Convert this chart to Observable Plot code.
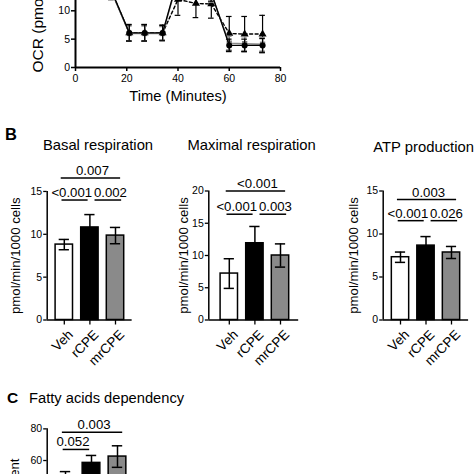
<!DOCTYPE html>
<html><head><meta charset="utf-8">
<script src="https://cdn.jsdelivr.net/npm/d3@7"></script>
<script src="https://cdn.jsdelivr.net/npm/@observablehq/plot@0.6"></script>
<style>
body{margin:0;background:#fff;}
#fig{position:relative;width:474px;height:474px;overflow:hidden;background:#fff;font-family:"Liberation Sans",Arial,sans-serif;color:#000;}
#fig svg{position:absolute;max-width:none;}
.lbl{position:absolute;white-space:nowrap;line-height:1;}
</style></head><body><div id="fig"></div>
<script>
// ---------- DATA ----------
const times     = [1.5, 8, 14, 21, 27, 34, 40, 47, 53, 60, 66, 73];
const ocrVeh    = [13.8, 13.6, 13.5, 6.1, 6.1, 6.1, 12.0, 11.3, 11.2, 6.0, 5.9, 5.9];
const ocrVehSd  = [1.5, 1.5, 1.5, 1.5, 1.5, 1.4, 2.8, 2.5, 2.5, 3.0, 3.1, 3.3];
const ocrRcpe   = [14.2, 14.0, 13.6, 6.1, 6.1, 6.1, 15.8, 14.5, 13.2, 3.9, 3.9, 3.9];
const ocrRcpeSd = [1.5, 1.5, 1.5, 1.4, 1.4, 1.3, 1.5, 1.5, 1.5, 1.1, 1.1, 1.2];
const ocrMr     = [14.0, 13.8, 13.4, 6.0, 6.0, 6.0, 15.5, 14.3, 13.0, 4.3, 4.2, 4.1];
const ocrMrSd   = [1.5, 1.5, 1.5, 1.3, 1.3, 1.2, 1.5, 1.5, 1.5, 1.2, 1.2, 1.2];
const timeTicks = [0, 20, 40, 60, 80];
const ocrTicks  = [0, 5, 10, 15];

const groups     = ["Veh", "rCPE", "mrCPE"];
const groupFills = ["white", "black", "#8a8a8a"];

const basal      = [8.8, 10.8, 9.85];
const basalSd    = [0.6, 1.5, 0.95];
const basalP     = [["Veh","mrCPE","0.007"], ["Veh","rCPE","<0.001"], ["rCPE","mrCPE","0.002"]];
const basalTicks = [0, 5, 10, 15];

const maximal      = [7.2, 11.9, 10.0];
const maximalSd    = [2.3, 2.6, 1.8];
const maximalP     = [["Veh","mrCPE","<0.001"], ["Veh","rCPE","<0.001"], ["rCPE","mrCPE","0.003"]];
const maximalTicks = [0, 5, 10, 15, 20];

const atp      = [7.3, 8.65, 7.85];
const atpSd    = [0.6, 1.05, 0.7];
const atpP     = [["Veh","mrCPE","0.003"], ["Veh","rCPE","<0.001"], ["rCPE","mrCPE","0.026"]];
const atpTicks = [0, 5, 10, 15];

const fatty      = [49.5, 58.5, 62.5];
const fattySd    = [3.5, 4.7, 6.8];
const fattyP     = [["Veh","mrCPE","0.003"], ["Veh","rCPE","0.052"]];
const fattyTicks = [0, 20, 40, 60, 80];

const FONT = '"Liberation Sans", Arial, sans-serif';
const fig = document.getElementById("fig");

function place(svg, left, top) {
  svg.style.left = left + "px";
  svg.style.top = top + "px";
  fig.appendChild(svg);
}
function label(text, left, cy, size, opts = {}) {
  const d = document.createElement("div");
  d.className = "lbl";
  d.textContent = text;
  d.style.fontSize = size + "px";
  d.style.top = (cy - size / 2) + "px";
  d.style.left = left + "px";
  if (opts.center) d.style.transform = "translateX(-50%)";
  if (opts.bold) d.style.fontWeight = "bold";
  fig.appendChild(d);
}

// ---------- PANEL A ----------
(function () {
  const series = [
    {v: ocrVeh, e: ocrVehSd, stroke: "black", dash: "3,2.5", symbol: "triangle", fill: "black"},
    {v: ocrMr, e: ocrMrSd, stroke: "#8a8a8a", dash: null, symbol: "square", fill: "#7a7a7a"},
    {v: ocrRcpe, e: ocrRcpeSd, stroke: "black", dash: null, symbol: "circle", fill: "black"}
  ];
  const marks = [];
  for (const s of series) {
    const rows = times.map((t, i) => ({t, v: s.v[i], e: s.e[i]}));
    marks.push(Plot.line(rows, {x: "t", y: "v", stroke: s.stroke, strokeWidth: 1.4, strokeDasharray: s.dash}));
    marks.push(Plot.ruleX(rows, {x: "t", y1: d => d.v - d.e, y2: d => d.v + d.e, stroke: s.stroke, strokeWidth: 1.2}));
    marks.push(Plot.ruleY(rows, {y: d => d.v + d.e, x1: d => d.t - 1.1, x2: d => d.t + 1.1, stroke: s.stroke, strokeWidth: 1.2}));
    marks.push(Plot.ruleY(rows, {y: d => d.v - d.e, x1: d => d.t - 1.1, x2: d => d.t + 1.1, stroke: s.stroke, strokeWidth: 1.2}));
    marks.push(Plot.dot(rows, {x: "t", y: "v", symbol: () => s.symbol, fill: s.fill, r: 3, stroke: "none"}));
  }
  const svg = Plot.plot({
    width: 300, height: 170, marginLeft: 75, marginRight: 20, marginTop: 13.6, marginBottom: 43,
    x: {domain: [0, 80]}, y: {domain: [0, 20]},
    style: {background: "none", fontFamily: FONT, fontSize: "10.5px", color: "black", overflow: "visible"},
    marks: [
      ...marks,
      Plot.ruleX([0], {strokeWidth: 2}),
      Plot.ruleY([0], {strokeWidth: 2}),
      Plot.axisY({ticks: ocrTicks, tickSize: 4, tickPadding: 1.5, label: null, strokeWidth: 1.5}),
      Plot.axisX({ticks: timeTicks, tickSize: 4, tickPadding: 3, label: null, strokeWidth: 1.5}),
      Plot.text(["Time (Minutes)"], {frameAnchor: "bottom", text: d => d, dy: 29, fontSize: 14.7, lineAnchor: "middle"}),
      Plot.text(["OCR (pmol/min/1000 cells)"], {frameAnchor: "bottom-left", text: d => d, rotate: -90, textAnchor: "start", dx: -37, dy: 5, fontSize: 15.5, lineAnchor: "middle"})
    ]
  });
  place(svg, 0, -60);
})();

// ---------- BAR PANELS ----------
function barChart(cfg) {
  const {values, errs, pvals, ticks, ppu, axisX, zeroY, vehCenter, spacing, xmax,
         left, top, width, height, wide, pair, ylabel, ylabelDx, ylabelY, ylabelAnchor} = cfg;
  const xmin = (axisX - vehCenter) / spacing;
  const marginLeft = axisX - left;
  const marginRight = width - marginLeft - (xmax - xmin) * spacing;
  const marginBottom = top + height - zeroY;
  const marginTop = 4;
  const ymaxDom = (height - marginBottom - marginTop) / ppu;
  const rows = groups.map((g, i) => ({g, i, v: values[i], e: errs[i], fill: groupFills[i]}));
  const br = pvals.map(([ga, gb, p]) => {
    const a = groups.indexOf(ga), b = groups.indexOf(gb);
    const span = b - a;
    const x1 = span === 2 ? a - 0.12 : (a === 0 ? a - 0.09 : a + 0.2);
    const x2 = span === 2 ? b + 0.2 : (b === 2 ? b + 0.24 : b - 0.07);
    const shift = span === 2 ? 0.06 : (a === 0 ? -0.13 : 0.08);
    return {x1, x2, xt: (x1 + x2) / 2 + shift, y: span === 2 ? wide : pair, p};
  });
  const topTick = ticks[ticks.length - 1];
  const svg = Plot.plot({
    width, height, marginLeft, marginRight, marginTop, marginBottom,
    x: {domain: [xmin, xmax]}, y: {domain: [0, ymaxDom]},
    color: {type: "identity"},
    style: {background: "none", fontFamily: FONT, fontSize: "10.5px", color: "black", overflow: "visible"},
    marks: [
      Plot.rect(rows, {x1: d => d.i - 0.34, x2: d => d.i + 0.34, y1: 0, y2: "v", fill: "fill", stroke: "black", strokeWidth: 1.5}),
      Plot.ruleX(rows, {x: "i", y1: d => d.v - d.e, y2: d => d.v + d.e, stroke: "black", strokeWidth: 1.5}),
      Plot.ruleY(rows, {y: d => d.v + d.e, x1: d => d.i - 0.2, x2: d => d.i + 0.2, stroke: "black", strokeWidth: 1.5}),
      Plot.ruleY(rows, {y: d => d.v - d.e, x1: d => d.i - 0.2, x2: d => d.i + 0.2, stroke: "black", strokeWidth: 1.5}),
      Plot.ruleX([xmin], {y1: 0, y2: topTick, strokeWidth: 1.5}),
      Plot.ruleY([0], {strokeWidth: 1.5}),
      Plot.axisY({ticks, tickSize: 3.5, tickPadding: 1.5, label: null, strokeWidth: 1.3}),
      Plot.axisX({ticks: [0, 1, 2], tickFormat: () => "", tickSize: 5, label: null, strokeWidth: 1.3}),
      Plot.text(rows, {x: "i", y: () => 0, text: "g", rotate: -45, textAnchor: "end", lineAnchor: "bottom", dx: 9.5, dy: 15.5, fontSize: 13.5}),
      Plot.ruleY(br, {x1: "x1", x2: "x2", y: "y", strokeWidth: 1.5}),
      Plot.text(br, {x: "xt", y: "y", text: "p", lineAnchor: "bottom", dy: -3, fontSize: 13.2}),
      Plot.text([ylabel], {x: () => xmin, y: () => (ylabelY ?? topTick / 2), text: d => d, rotate: -90, dx: ylabelDx, fontSize: 13.2, textAnchor: ylabelAnchor || "middle", lineAnchor: "middle"})
    ]
  });
  place(svg, left, top);
}

barChart({values: basal, errs: basalSd, pvals: basalP, ticks: basalTicks, ppu: 8.57, axisX: 46.7, zeroY: 319.5,
  vehCenter: 63.8, spacing: 25.6, xmax: 2.65, left: 0, top: 150, width: 160, height: 230,
  wide: 16.56, pair: 14.0, ylabel: "pmol/min/1000 cells", ylabelDx: -31.7});
barChart({values: maximal, errs: maximalSd, pvals: maximalP, ticks: maximalTicks, ppu: 6.45, axisX: 208.3, zeroY: 319.5,
  vehCenter: 228.8, spacing: 25.6, xmax: 2.71, left: 160, top: 150, width: 160, height: 230,
  wide: 20.0, pair: 16.4, ylabel: "pmol/min/1000 cells", ylabelDx: -25});
barChart({values: atp, errs: atpSd, pvals: atpP, ticks: atpTicks, ppu: 8.6, axisX: 382.7, zeroY: 319.5,
  vehCenter: 400, spacing: 25.5, xmax: 2.67, left: 320, top: 150, width: 154, height: 230,
  wide: 14.0, pair: 11.55, ylabel: "pmol/min/1000 cells", ylabelDx: -29.7});
barChart({values: fatty, errs: fattySd, pvals: fattyP, ticks: fattyTicks, ppu: 1.583, axisX: 46.7, zeroY: 555,
  vehCenter: 65, spacing: 26, xmax: 2.7, left: 0, top: 405, width: 160, height: 200,
  wide: 77.9, pair: 67, ylabel: "Percent", ylabelDx: -32.7, ylabelY: 61.3, ylabelAnchor: "end"});

// ---------- TITLES ----------
label("B", 5, 134, 16.5, {bold: true});
label("Basal respiration", 98, 145, 14.8, {center: true});
label("Maximal respiration", 251.7, 145, 14.8, {center: true});
label("ATP production", 373.3, 147, 14.8);
label("C", 7, 398, 15.5, {bold: true});
label("Fatty acids dependency", 29, 398, 14.7);
</script>
</body></html>
